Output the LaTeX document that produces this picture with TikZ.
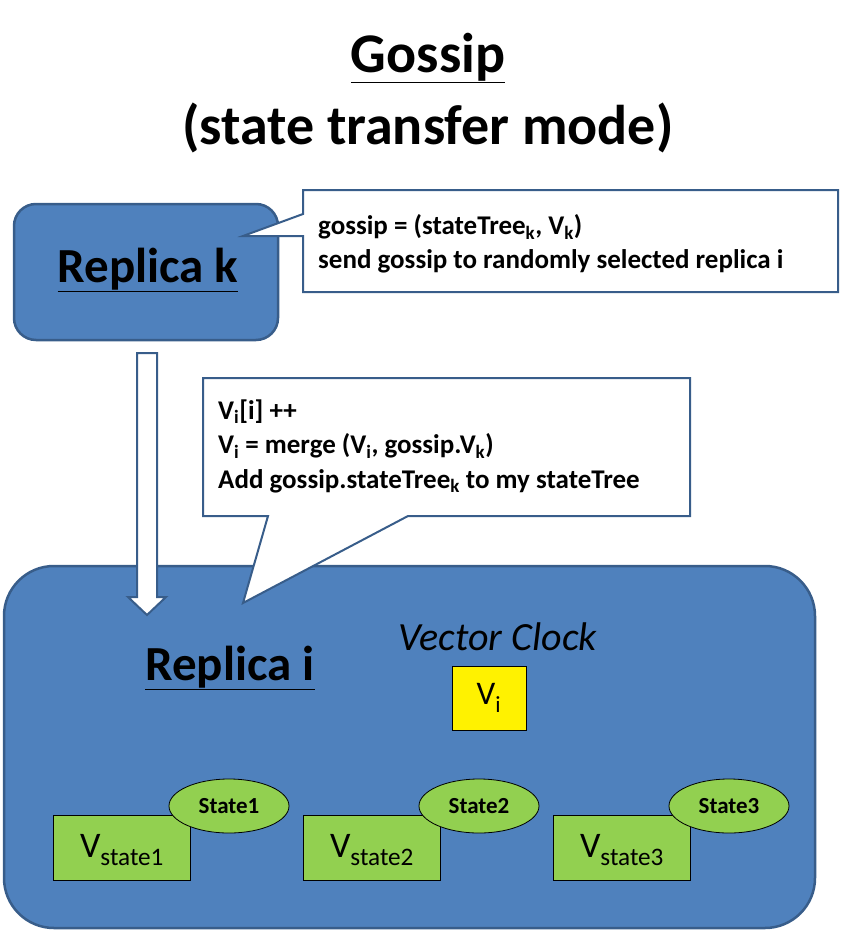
\documentclass[tikz,border=0pt]{standalone}
\usepackage{fontspec}
\setmainfont{Carlito}
\usetikzlibrary{shapes.geometric}
\definecolor{rb}{HTML}{4F81BD}
\definecolor{rbd}{HTML}{385D8A}
\definecolor{gr}{HTML}{92D050}
\begin{document}
\begin{tikzpicture}[x=1pt,y=-1pt,
  rep/.style={draw=rbd,line width=2.5pt,fill=rb,rounded corners=22pt},
  call/.style={draw=rbd,line width=2pt,fill=white},
  ctxt/.style={font=\fontsize{27}{34.5}\selectfont\bfseries,align=left,anchor=west,inner sep=0},
  grn/.style={draw=black,line width=0.8pt,fill=gr},
  ell/.style={ellipse,draw=black,line width=0.8pt,fill=gr,minimum width=120pt,minimum height=54pt,inner sep=0,font=\fontsize{23}{24}\selectfont\bfseries},
  vs/.style={font=\fontsize{36}{38}\selectfont}]
\useasboundingbox (0,0) rectangle (843,932);
\node (t1) at (428,58) {\fontsize{56}{58}\selectfont\bfseries\underline{Gossip}};
\node (t2) at (428,128) {\fontsize{56}{58}\selectfont\bfseries (state transfer mode)};
% replica k
\draw[rep] (14,204) rectangle (278,340);
\node (rk) at (148,270) {\fontsize{49}{50}\selectfont\bfseries\underline{Replica k}};
% callout 1
\draw[call] (303,190) -- (838,190) -- (838,292) -- (303,292) -- (303,236) -- (243,236) -- (303,214) -- cycle;
\node[ctxt] (c1) at (318,244) {gossip = (stateTree\textsubscript{k}, V\textsubscript{k})\\send gossip to randomly selected replica i};
% replica i
\draw[rep,rounded corners=50pt] (4,566) rectangle (815,928);
\node (ri) at (230,668) {\fontsize{49}{50}\selectfont\bfseries\underline{Replica i}};
% arrow
\draw[draw=rbd,line width=2pt,fill=white] (137,353) -- (157,353) -- (157,597) -- (166,597) -- (147,615) -- (128,597) -- (137,597) -- cycle;
% callout 2
\draw[call] (203,378) -- (690,378) -- (690,516) -- (408,516) -- (243,603) -- (268,516) -- (203,516) -- cycle;
\node[ctxt] (c2) at (218,446) {V\textsubscript{i}[i] ++\\V\textsubscript{i} = merge (V\textsubscript{i}, gossip.V\textsubscript{k})\\Add gossip.stateTree\textsubscript{k} to my stateTree};
\node (vc) at (498,637) {\fontsize{40}{42}\selectfont\itshape Vector Clock};
\draw[line width=0.8pt,fill=yellow] (452,666) rectangle (526,730);
\node (vi) at (489,698) {\fontsize{33}{34}\selectfont V\textsubscript{i}};
\foreach \n/\x in {1/53,2/303,3/553}{
  \draw[grn] (\x,815) rectangle (\x+137,880);
  \node[vs] (vs\n) at (\x+69,850) {V\textsubscript{state\n}};
  \node[ell] (s\n) at (\x+176,806) {State\n};
}
\end{tikzpicture}
\end{document}
